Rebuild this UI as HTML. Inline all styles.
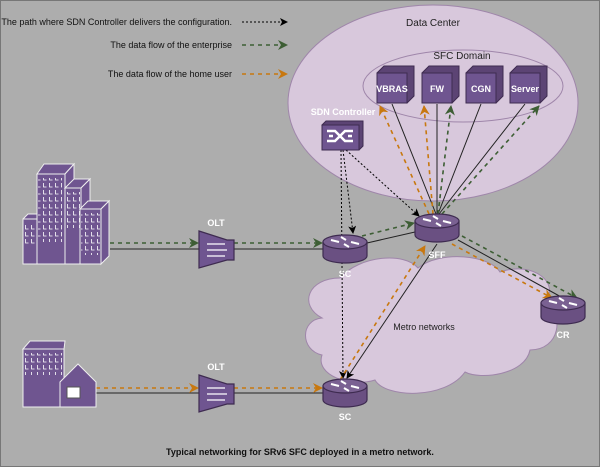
<!DOCTYPE html>
<html><head><meta charset="utf-8"><style>
html,body{margin:0;padding:0;background:#adadad}
svg{display:block;font-family:"Liberation Sans",Arial,sans-serif}
</style></head><body>
<svg width="600" height="467" viewBox="0 0 600 467" xmlns="http://www.w3.org/2000/svg">
<defs>
<marker id="ak" markerWidth="8" markerHeight="8" refX="7" refY="4" orient="auto" markerUnits="userSpaceOnUse"><path d="M0,0 L8,4 L0,8 L2,4z" fill="#000"/></marker>
<marker id="ag" markerWidth="10" markerHeight="10" refX="9" refY="5" orient="auto" markerUnits="userSpaceOnUse"><path d="M0,0 L10,5 L0,10 L3,5z" fill="#3d5e34"/></marker>
<marker id="ao" markerWidth="10" markerHeight="10" refX="9" refY="5" orient="auto" markerUnits="userSpaceOnUse"><path d="M0,0 L10,5 L0,10 L3,5z" fill="#c8780f"/></marker>
<pattern id="win" width="6" height="7" patternUnits="userSpaceOnUse">
<path d="M1.5,1 v4 h3" stroke="#fff" stroke-width="0.8" fill="none"/>
</pattern>
<g id="router">
<path d="M-22,-6 v14 a22,7 0 0 0 44,0 v-14z" fill="#6a5082" stroke="#3e2b50" stroke-width="1.2"/>
<ellipse cx="0" cy="-6" rx="22" ry="7" fill="#7a6192" stroke="#3e2b50" stroke-width="1.2"/>
<path d="M-14,-8 l8,2 M14,-4 l-8,-2 M-4,-11 l5,3 M4,-1 l-5,-3" stroke="#fff" stroke-width="2"/>
</g>
<g id="box">
<path d="M0,0 l7,-7 h30 v30 l-7,7z" fill="#5c4474" stroke="#3e2b50"/>
<rect x="0" y="0" width="30" height="30" fill="#6f5590" stroke="#3e2b50"/>
</g>
<g id="olt">
<path d="M0,-17 L28,-8 L35,-8 L35,12 L28,12 L0,20 z" fill="#6f5590" stroke="#3e2b50" stroke-width="1.2"/>
<path d="M8,-4 h18 M8,2 h20 M8,8 h18" stroke="#fff" stroke-width="1.2"/>
</g>
</defs>
<rect x="0.5" y="0.5" width="599" height="466" fill="#adadad" stroke="#777"/>
<g font-size="9" fill="#111" text-anchor="end">
<text x="232" y="25">The path where SDN Controller delivers the configuration.</text>
<text x="232" y="48">The data flow of the enterprise</text>
<text x="232" y="77">The data flow of the home user</text>
</g>
<line x1="242" y1="22" x2="287" y2="22" stroke="#000" stroke-dasharray="2,2" marker-end="url(#ak)"/>
<line x1="242" y1="45" x2="287" y2="45" stroke="#3d5e34" stroke-width="1.5" stroke-dasharray="4,4" marker-end="url(#ag)"/>
<line x1="242" y1="74" x2="287" y2="74" stroke="#c8780f" stroke-width="1.5" stroke-dasharray="4,4" marker-end="url(#ao)"/>
<ellipse cx="433" cy="103" rx="145" ry="98" fill="#d8c8dc" stroke="#9f86aa"/>
<text x="433" y="26" font-size="10" text-anchor="middle" fill="#222">Data Center</text>
<ellipse cx="463" cy="86" rx="100" ry="36" fill="#d8c8dc" stroke="#9f86aa"/>
<text x="462" y="59" font-size="10" text-anchor="middle" fill="#222">SFC Domain</text>
<path d="M340,278 C360,255 405,252 418,268 C440,250 490,255 500,272 C535,260 560,285 545,300 C565,315 560,350 530,350 C525,375 480,380 465,372 C445,400 385,398 375,380 C350,388 315,375 322,355 C300,350 300,320 322,318 C298,305 308,278 340,278z" fill="#d8c8dc" stroke="#9f86aa"/>
<text x="424" y="330" font-size="9" text-anchor="middle" fill="#222">Metro networks</text>
<g stroke="#222" stroke-width="1">
<line x1="110" y1="249" x2="199" y2="249"/>
<line x1="234" y1="249" x2="323" y2="249"/>
<line x1="96" y1="393" x2="199" y2="393"/>
<line x1="234" y1="393" x2="323" y2="393"/>
<line x1="367" y1="243" x2="415" y2="232"/>
<line x1="392" y1="104" x2="436" y2="214"/>
<line x1="437" y1="104" x2="437" y2="214"/>
<line x1="481" y1="104" x2="438" y2="214"/>
<line x1="525" y1="104" x2="439" y2="214"/>
<line x1="458" y1="240" x2="563" y2="298"/>
<line x1="437" y1="244" x2="347" y2="378" marker-end="url(#ak)"/>
</g>
<g stroke="#000" stroke-dasharray="2,2" fill="none">
<line x1="343" y1="150" x2="353" y2="233" marker-end="url(#ak)"/>
<line x1="346" y1="150" x2="419" y2="216" marker-end="url(#ak)"/>
<line x1="341" y1="150" x2="343" y2="378" marker-end="url(#ak)"/>
</g>
<g stroke="#3d5e34" stroke-width="1.6" stroke-dasharray="4,4" fill="none">
<line x1="110" y1="243" x2="198" y2="243" marker-end="url(#ag)"/>
<line x1="234" y1="243" x2="322" y2="243" marker-end="url(#ag)"/>
<line x1="362" y1="236" x2="414" y2="223" marker-end="url(#ag)"/>
<line x1="438" y1="214" x2="451" y2="106" marker-end="url(#ag)"/>
<line x1="442" y1="214" x2="539" y2="106" marker-end="url(#ag)"/>
<line x1="462" y1="236" x2="577" y2="298" marker-end="url(#ag)"/>
</g>
<g stroke="#c8780f" stroke-width="1.6" stroke-dasharray="4,4" fill="none">
<line x1="96" y1="388" x2="198" y2="388" marker-end="url(#ao)"/>
<line x1="234" y1="388" x2="322" y2="388" marker-end="url(#ao)"/>
<line x1="340" y1="380" x2="425" y2="246" marker-end="url(#ao)"/>
<line x1="429" y1="214" x2="380" y2="106" marker-end="url(#ao)"/>
<line x1="433" y1="214" x2="424" y2="106" marker-end="url(#ao)"/>
<line x1="452" y1="244" x2="552" y2="298" marker-end="url(#ao)"/>
</g>
<use href="#box" x="377" y="73"/><use href="#box" x="422" y="73"/><use href="#box" x="466" y="73"/><use href="#box" x="510" y="73"/>
<g font-size="9" font-weight="bold" fill="#fff" text-anchor="middle">
<text x="392" y="92">VBRAS</text><text x="437" y="92">FW</text><text x="481" y="92">CGN</text><text x="525" y="92">Server</text>
</g>
<path d="M322,125 l4,-4 h37 v25 l-4,4z" fill="#5c4474" stroke="#3e2b50"/>
<rect x="322" y="125" width="37" height="25" fill="#6f5590" stroke="#3e2b50"/>
<path d="M327,131 h8 l10,10 h8 M327,141 h8 l10,-10 h8 M329,136 h4 M348,136 h4" stroke="#fff" stroke-width="2.5" fill="none"/>
<text x="343" y="115" font-size="9" font-weight="bold" fill="#fff" text-anchor="middle">SDN Controller</text>
<use href="#router" x="437" y="227"/>
<use href="#router" x="345" y="248"/>
<use href="#router" x="345" y="392"/>
<use href="#router" x="563" y="309"/>
<g font-size="9" font-weight="bold" fill="#fff" text-anchor="middle">
<text x="437" y="258">SFF</text><text x="345" y="277">SC</text><text x="345" y="420">SC</text><text x="563" y="338">CR</text>
<text x="216" y="226">OLT</text><text x="216" y="370">OLT</text>
</g>
<use href="#olt" x="199" y="248"/>
<use href="#olt" x="199" y="392"/>
<g fill="#6f5590" stroke="#eee" stroke-width="1">
<path d="M23,264 v-45 l5,-5 h12 v50z"/>
<rect x="23" y="219" width="14" height="45"/>
<path d="M37,174 l7,-10 h30 l-9,10 z"/>
<rect x="37" y="174" width="28" height="90"/>
<path d="M65,174 l9,-10 v22 l-9,10z"/>
<path d="M65,188 l9,-9 h16 l-9,9z"/>
<rect x="65" y="188" width="16" height="76"/>
<path d="M81,188 l9,-9 v30 l-9,0z"/>
<path d="M80,209 l8,-8 h21 l-8,8z"/>
<rect x="80" y="209" width="21" height="55"/>
<path d="M101,209 l8,-8 v55 l-8,8z"/>
</g>
<rect x="24" y="223" width="12" height="22" fill="url(#win)"/>
<rect x="38" y="178" width="24" height="64" fill="url(#win)"/>
<rect x="66" y="192" width="14" height="36" fill="url(#win)"/>
<rect x="81" y="213" width="19" height="42" fill="url(#win)"/>
<g fill="#6f5590" stroke="#eee">
<path d="M23,349 l7,-8 h35 l-1,8z"/>
<rect x="23" y="349" width="41" height="58"/>
<rect x="24" y="353" width="38" height="22" fill="url(#win)" stroke="none"/>
<path d="M60,407 v-25 l18,-18 l18,18 v25z"/>
<rect x="67" y="387" width="13" height="11" fill="#fff" stroke="#555"/>
</g>
<text x="300" y="455" font-size="9" font-weight="bold" text-anchor="middle" fill="#111">Typical networking for SRv6 SFC deployed in a metro network.</text>
</svg>
</body></html>
